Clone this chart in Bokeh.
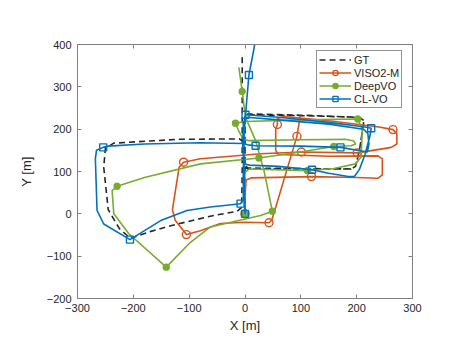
from bokeh.plotting import figure
from bokeh.models import (Range1d, LinearAxis, FixedTicker, CustomJSTickFormatter,
                          Legend, LegendItem, ColumnDataSource)
from bokeh.embed import file_html
from bokeh.resources import INLINE

# ---------------- data (metres) ----------------
gt_x = [0, 0, 0, 5, 100, 205, 213, 205, 198, 190, 100, 5, 0, 0, 5, 100, 205, 213, 205, 198,
        190, 100, 5, -2, -3, -10, -120, -235, -250, -253, -245, -225, -205, -170, -133, -60,
        -14, -6, -5, -5, -5]
gt_y = [0, 100, 230, 236, 233, 228, 220, 150, 112, 106, 107, 108, 115, 228, 234, 232, 228,
        220, 150, 112, 106, 106, 106, 112, 170, 177, 176, 167, 155, 110, 10, -35, -58, -42,
        -28, -5, 6, 15, 100, 200, 370]

viso_x = [0, 0, 2, 12, 119, 200, 238, 246, 246, 238, 150, 60, 55, 55, 58, 58, 70, 150, 240,
          265, 272, 272, 262, 201, 101, 28, -80, -110, -118, -130, -125, -105, -80, -44, -2,
          43, 48, 93, 99]
viso_y = [0, 40, 80, 85, 88, 86, 84, 92, 130, 137, 136, 140, 150, 200, 211, 225, 230, 220,
          205, 199, 190, 165, 157, 144, 146, 142, 130, 122, 110, 10, -15, -49, -40, -23, -20,
          -21, -15, 183, 232]
viso_marks = [0, 4, 14, 19, 23, 24, 27, 31, 35, 37]

deep_x = [0, -1, 0, 8, 112, 159, 198, 208, 210, 202, 100, 0, -17, -12, -4, 5, 100, 180,
          195, 198, 190, 159, 99, 25, -80, -180, -229, -238, -235, -208, -141, -100, -62, 28,
          49, 34, 19, 1, -5, -11]
deep_y = [0, 50, 98, 106, 102, 107, 118, 134, 200, 224, 222, 218, 214, 198, 178, 173, 175,
          176, 172, 165, 161, 159, 146, 132, 118, 86, 65, 55, 0, -47, -126, -70, -31, -4, 6,
          102, 173, 228, 289, 346]
deep_marks = [0, 4, 9, 12, 21, 23, 26, 30, 34, 38]

cl_x = [0, -1, -2, -1, 1, 60, 150, 215, 226, 224, 215, 205, 196, 185, 150, 120, 60, 8, -2,
        -4, -3, 3, 60, 150, 212, 220, 222, 219, 171, 100, 19, 5, -3, -80, -180, -245, -254,
        -266, -268, -265, -253, -206, -151, -104, -62, -8, -3, -3, -2, 1, 7, 16, 20]
cl_y = [0, 60, 150, 225, 234, 228, 216, 205, 202, 185, 140, 105, 88, 88, 96, 104, 112, 115,
        118, 160, 215, 228, 222, 212, 200, 190, 165, 146, 157, 160, 161, 163, 166, 168, 165,
        160, 157, 150, 130, 8, -24, -61, -16, 8, 16, 24, 35, 100, 180, 234, 328, 390, 420]
cl_marks = [0, 4, 8, 15, 28, 30, 36, 41, 45, 50]

series = ["GT", "VISO2-M", "DeepVO", "CL-VO"]
colors = ["#262626", "#D95319", "#77AC30", "#0072BD"]

x_ticks = [-300, -200, -100, 0, 100, 200, 300]
y_ticks = [-200, -100, 0, 100, 200, 300, 400]

# ---------------- figure ----------------
FONT = "Liberation Sans"
AX = "#808080"
p = figure(width=466, height=347, x_range=Range1d(-300, 300), y_range=Range1d(-200, 400),
           output_backend="svg", toolbar_location=None,
           min_border_left=77, min_border_right=54, min_border_top=44, min_border_bottom=49)
p.xgrid.visible = False
p.ygrid.visible = False
p.outline_line_color = AX
p.outline_line_width = 1
p.background_fill_color = "white"
p.border_fill_color = "white"


def style_axis(ax, ticks, show_labels=True):
    ax.ticker = FixedTicker(ticks=ticks)
    ax.major_tick_in = 4
    ax.major_tick_out = 0
    ax.minor_tick_in = 0
    ax.minor_tick_out = 0
    ax.axis_line_color = AX
    ax.major_tick_line_color = AX
    ax.major_label_text_font = FONT
    ax.major_label_text_font_size = "11px"
    ax.major_label_text_color = "#262626"
    ax.axis_label_text_font = FONT
    ax.axis_label_text_font_size = "13px"
    ax.axis_label_text_font_style = "normal"
    ax.axis_label_text_color = "#262626"
    if not show_labels:
        ax.formatter = CustomJSTickFormatter(code="return ''")


style_axis(p.xaxis[0], x_ticks)
style_axis(p.yaxis[0], y_ticks)
p.xaxis.axis_label = "X [m]"
p.yaxis.axis_label = "Y [m]"
p.xaxis.major_label_standoff = 5
p.xaxis.axis_label_standoff = 3
p.yaxis.major_label_standoff = 6
p.yaxis.axis_label_standoff = 10

top_ax = LinearAxis()
style_axis(top_ax, x_ticks, False)
p.add_layout(top_ax, "above")
right_ax = LinearAxis()
style_axis(right_ax, y_ticks, False)
p.add_layout(right_ax, "right")

# ---------------- trajectories ----------------
gt = p.line(gt_x, gt_y, line_color=colors[0], line_width=1.6, line_dash="6 4")

items = [LegendItem(label=series[0], renderers=[gt])]

paths = [(viso_x, viso_y, viso_marks, "circle", 8, None),
         (deep_x, deep_y, deep_marks, "circle", 6, "fill"),
         (cl_x, cl_y, cl_marks, "square", 7, None)]

for i, (xs, ys, marks, mk, sz, fill) in enumerate(paths):
    c = colors[i + 1]
    ln = p.line(xs, ys, line_color=c, line_width=1.6)
    src = ColumnDataSource(dict(x=[xs[k] for k in marks], y=[ys[k] for k in marks]))
    sc = p.scatter("x", "y", source=src, marker=mk, size=sz, line_color=c, line_width=1.4,
                   fill_color=(c if fill else None))
    items.append(LegendItem(label=series[i + 1], renderers=[ln, sc]))

legend = Legend(items=items, location=(239, 190))
legend.label_text_font = FONT
legend.label_text_font_size = "11px"
legend.label_text_color = "#262626"
legend.glyph_width = 32
legend.glyph_height = 13
legend.label_height = 13
legend.label_standoff = 3
legend.spacing = 0
legend.padding = 2
legend.margin = 0
legend.border_line_color = "#262626"
legend.border_line_width = 1
legend.background_fill_alpha = 1
p.add_layout(legend, "center")

open("out.html", "w").write(file_html(p, INLINE))
